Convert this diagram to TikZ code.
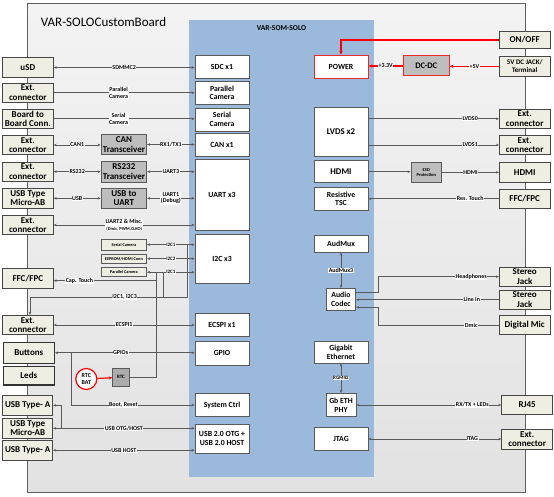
\documentclass[tikz,border=0pt]{standalone}
\usepackage{fontspec}
\setmainfont{Carlito}
\usetikzlibrary{arrows.meta,calc,shapes.geometric}
\definecolor{boardtop}{RGB}{243,243,243}
\definecolor{boardbot}{RGB}{226,226,226}
\definecolor{boardline}{RGB}{95,95,95}
\definecolor{somblue}{RGB}{155,185,218}
\definecolor{extfill}{RGB}{238,238,226}
\definecolor{extline}{RGB}{70,70,70}
\definecolor{greyfill}{RGB}{190,190,190}
\definecolor{lngrey}{RGB}{90,90,90}
\definecolor{pwrred}{RGB}{240,40,40}
\tikzset{
  fig/.style={x=1pt,y=-1pt},
  ext/.style={draw=extline,fill=extfill,line width=0.8pt,minimum width=51pt,
              minimum height=19.5pt,align=center,inner sep=0.5pt,
              font=\bfseries\fontsize{9}{9.5}\selectfont},
  extb/.style={ext,line width=1.4pt,draw=black!80},
  inbox/.style={draw=lngrey,fill=white,line width=0.8pt,minimum width=54pt,align=center,
                inner sep=0.5pt,font=\bfseries\fontsize{7.8}{8.8}\selectfont},
  greybox/.style={draw=lngrey,fill=greyfill,line width=0.8pt,minimum width=45.7pt,
                  minimum height=20.5pt,align=center,inner sep=0.5pt,
                  font=\bfseries\fontsize{9}{9.5}\selectfont},
  devbox/.style={draw=lngrey,fill=extfill,line width=0.6pt,minimum width=45.7pt,
                 align=center,inner sep=0pt,font=\bfseries\fontsize{4.3}{5}\selectfont},
  ln/.style={-{Stealth[length=3pt,width=2.6pt]},line width=0.7pt,draw=lngrey},
  lnb/.style={{Stealth[length=3pt,width=2.6pt]}-{Stealth[length=3pt,width=2.6pt]},
              line width=0.7pt,draw=lngrey},
  pln/.style={line width=0.7pt,draw=lngrey},
  rln/.style={-{Stealth[length=3.6pt,width=3.2pt]},line width=1.2pt,draw=red},
  lbl/.style={font=\bfseries\fontsize{6}{6.5}\selectfont,fill=white,inner sep=0.5pt,
              align=center},
}

\begin{document}
\begin{tikzpicture}[fig]
\useasboundingbox (0,0) rectangle (554,497);
\fill[white] (0,0) rectangle (554,497);

% board and module
\shade[top color=boardtop,bottom color=boardbot] (27,4) rectangle (525,492.7);
\draw[boardline,line width=1pt] (27,4) rectangle (525,492.7);
\fill[somblue] (189,20) rectangle (374,476.7);
\node[anchor=west,inner sep=0pt,font=\fontsize{13}{14}\selectfont] (boardtitle)
  at (40.7,21.7) {VAR-SOLOCustomBoard};
\node[font=\bfseries\fontsize{7.5}{8}\selectfont] (somtitle) at (281.5,28) {VAR-SOM-SOLO};

% left connectors
\node[ext] (usd) at (27.8,67.5) {uSD};
\node[ext] (extpar) at (27.8,92.8) {Ext.\\connector};
\node[ext] (b2b) at (27.8,118.8) {Board to\\Board Conn.};
\node[ext] (extcan) at (27.8,145) {Ext.\\connector};
\node[ext] (extrs) at (27.8,171.7) {Ext.\\connector};
\node[ext] (usbmicro1) at (27.8,198.3) {USB Type\\Micro-AB};
\node[ext] (extuart) at (27.8,225) {Ext.\\connector};
\node[ext] (ffcl) at (27.8,278.3) {FFC/FPC};
\node[ext] (extspi) at (27.8,325) {Ext.\\connector};
\node[extb,minimum height=21pt] (buttons) at (28.8,352.8) {Buttons};
\node[extb,minimum height=18.5pt] (leds) at (28.8,375.8) {Leds};
\node[ext,minimum width=50pt] (usba1) at (27.7,405.3) {USB Type- A};
\node[ext,minimum width=50pt] (usbmicro2) at (27.7,428.3) {USB Type\\Micro-AB};
\node[ext,minimum width=50pt] (usba2) at (27.7,450.3) {USB Type- A};

% module, left column
\node[inbox,minimum height=23.3pt] (sdc) at (222,66.7) {SDC x1};
\node[inbox,minimum height=22.3pt] (parcam) at (222,92.8) {Parallel\\Camera};
\node[inbox,minimum height=23pt] (sercam) at (222,119.5) {Serial\\Camera};
\node[inbox,minimum height=22.7pt] (canx) at (222,144.7) {CAN x1};
\node[inbox,minimum height=71.4pt] (uart) at (222,195) {UART x3};
\node[inbox,minimum height=49pt] (i2c) at (222,258.8) {I2C x3};
\node[inbox,minimum height=23.4pt] (ecspi) at (222,325) {ECSPI x1};
\node[inbox,minimum height=24pt] (gpio) at (222,353) {GPIO};
\node[inbox,minimum height=23.4pt] (sysctrl) at (222,405) {System Ctrl};
\node[inbox,minimum height=29.3pt] (usbotg) at (222,438.7) {USB 2.0 OTG +\\USB 2.0 HOST};

% module, right column
\node[inbox,draw=pwrred,line width=1pt,minimum height=23.3pt] (power) at (341,66.7) {POWER};
\node[inbox,minimum height=48.7pt,font=\bfseries\fontsize{8.8}{10}\selectfont] (lvds)
  at (341,131.7) {LVDS x2};
\node[inbox,minimum height=22pt,font=\bfseries\fontsize{8.8}{10}\selectfont] (hdmi)
  at (341,171.7) {HDMI};
\node[inbox,minimum height=22.7pt] (tsc) at (341,198.7) {Resistive\\TSC};
\node[inbox,minimum height=17.3pt] (audmux) at (341,243.7) {AudMux};
\node[inbox,minimum width=29.7pt,minimum height=22.4pt] (codec) at (340.9,299.5) {Audio\\Codec};
\node[inbox,minimum height=22pt] (gbe) at (341,352) {Gigabit\\Ethernet};
\node[inbox,minimum width=30pt,minimum height=23.4pt] (phy) at (341,405) {Gb ETH\\PHY};
\node[inbox,minimum height=23.4pt] (jtag) at (341,439) {JTAG};

% parts on the board
\node[greybox] (cantr) at (123.9,144.5) {CAN\\Transceiver};
\node[greybox] (rstr) at (123.9,171.7) {RS232\\Transceiver};
\node[greybox] (usbuart) at (123.9,198.3) {USB to\\UART};
\node[devbox,minimum height=10.7pt] (dsercam) at (123.9,244.7) {Serial Camera};
\node[devbox,minimum height=9.3pt] (deeprom) at (123.9,258.7) {EEPROM/HDMI Conn};
\node[devbox,minimum height=9pt] (dparcam) at (123.9,272.2) {Parallel Camera};
\node[greybox,minimum width=16.3pt,minimum height=18.7pt,fill=greyfill!90!black,
      font=\bfseries\fontsize{5}{6}\selectfont] (rtc) at (120.9,377.3) {RTC};
\node[circle,draw=red,line width=1.2pt,fill=white,minimum size=21pt,inner sep=0pt,
      align=center,font=\bfseries\fontsize{6}{6.5}\selectfont] (rtcbat) at (86.3,379) {RTC\\BAT};
\node[greybox,draw=pwrred,line width=1pt,minimum width=46pt,minimum height=20pt,
      font=\bfseries\fontsize{8.5}{9}\selectfont] (dcdc) at (426.3,66) {DC-DC};
\node[greybox,minimum width=30.7pt,minimum height=20pt,
      font=\bfseries\fontsize{4.5}{5.5}\selectfont] (esd) at (426.3,172.3) {ESD\\Protection};

% right connectors
\node[ext,minimum width=50.7pt,minimum height=16.6pt] (onoff) at (524.7,40) {ON/OFF};
\node[ext,minimum width=50.7pt,minimum height=19.3pt,font=\bfseries\fontsize{7}{8}\selectfont]
  (dcjack) at (524.7,66.3) {5V DC JACK/\\Terminal};
\node[ext,minimum width=50.7pt] (extlvds0) at (524.7,118.8) {Ext.\\connector};
\node[ext,minimum width=50.7pt] (extlvds1) at (524.7,145) {Ext.\\connector};
\node[ext,minimum width=50.7pt] (hdmiconn) at (524.7,172.2) {HDMI};
\node[ext,minimum width=50.7pt] (ffcr) at (524.7,198.8) {FFC/FPC};
\node[ext,minimum width=50.7pt] (jack1) at (524.7,276.7) {Stereo\\Jack};
\node[ext,minimum width=50.7pt,minimum height=19.3pt] (jack2) at (524.7,299.7) {Stereo\\Jack};
\node[ext,minimum width=50.7pt] (dmic) at (524.7,325) {Digital Mic};
\node[ext,minimum height=19.3pt] (rj45) at (527.2,404.7) {RJ45};
\node[ext] (extjtag) at (527.2,439.3) {Ext.\\connector};

% bus corners
\coordinate (b3top) at (187.7,244.7);
\coordinate (b3bot) at (187.7,297.3);
\coordinate (b2top) at (163.3,272.2);
\coordinate (b2bot) at (163.3,297.3);
\coordinate (b1top) at (156.7,272.2);
\coordinate (ctk) at (156.7,280.7);
\coordinate (spidn) at (30,297.3);
\coordinate (bootk) at (71.7,353);
\coordinate (usbk) at (61.7,428.3);
\coordinate (hpk) at (378.3,292.3);
\coordinate (dmk) at (378.3,307.3);

% left side links
\draw[lnb] (usd.east) -- node[lbl]{SDMMC2} (usd.east -| sdc.west);
\draw[ln] (extpar.east) -- node[lbl,pos=0.46]{Parallel\\Camera} (extpar.east -| parcam.west);
\draw[ln] (b2b.east) -- node[lbl,pos=0.46]{Serial\\Camera} (b2b.east -| sercam.west);
\draw[lnb] (extcan.east) -- node[lbl]{CAN1} (extcan.east -| cantr.west);
\draw[lnb] (cantr.east) -- node[lbl]{RX1/TX1} (cantr.east -| canx.west);
\draw[lnb] (extrs.east) -- node[lbl]{RS232} (extrs.east -| rstr.west);
\draw[lnb] (rstr.east) -- node[lbl]{UART3} (rstr.east -| uart.west);
\draw[lnb] (usbmicro1.east) -- node[lbl]{USB} (usbmicro1.east -| usbuart.west);
\draw[lnb] (usbuart.east) -- node[lbl]{UART1\\(Debug)} (usbuart.east -| uart.west);
\draw[lnb] (extuart.east) -- node[lbl]{UART2 \& Misc.\\{\fontsize{4.5}{5}\selectfont (Dmic, PWM,CLKO)}}
  (extuart.east -| uart.west);
\draw[lnb] (dsercam.east) -- node[lbl,font=\bfseries\fontsize{5}{6}\selectfont]{I2C1} (dsercam.east -| i2c.west);
\draw[lnb] (deeprom.east) -- node[lbl,font=\bfseries\fontsize{5}{6}\selectfont]{I2C2} (deeprom.east -| i2c.west);
\draw[lnb] (dparcam.east) -- node[lbl,font=\bfseries\fontsize{5}{6}\selectfont]{I2C1} (dparcam.east -| i2c.west);
\draw[pln] (b2top) -- (b2bot);
\draw[ln] (b3top) -- (b3bot) -- node[lbl,pos=0.4]{I2C1, I2C3} (spidn) -- (spidn |- extspi.north);
\draw[pln] (b1top) -- (b1top |- rtc.east) -- (rtc.east);
\draw[ln] (ctk) -- node[lbl,pos=0.75]{Cap. Touch} (ctk -| ffcl.east);
\draw[lnb] (extspi.east) -- node[lbl]{ECSPI1} (extspi.east -| ecspi.west);
\draw[lnb] (buttons.east) -- node[lbl,pos=0.47]{GPIOs} (buttons.east -| gpio.west);
\draw[ln] (bootk) |- node[lbl,pos=0.71]{Boot, Reset} (sysctrl.west);
\draw[rln] (rtcbat) -- (rtc);
\draw[ln] (usbk) |- (usba1.east);
\draw[lnb] (usbmicro2.east) -- node[lbl]{USB OTG/HOST} (usbmicro2.east -| usbotg.west);
\draw[lnb] (usba2.east) -- node[lbl]{USB HOST} (usba2.east -| usbotg.west);

% right side links
\draw[rln] (onoff.west) -| (power.north);
\draw[rln] (dcjack.west) -- node[lbl]{+5V} (dcjack.west -| dcdc.east);
\draw[rln] (dcdc.west) -- node[lbl]{+3.3V} (dcdc.west -| power.east);
\draw[ln] (lvds.east |- extlvds0.west) -- node[lbl,pos=0.78]{LVDS0} (extlvds0.west);
\draw[ln] (lvds.east |- extlvds1.west) -- node[lbl,pos=0.78]{LVDS1} (extlvds1.west);
\draw[ln] (hdmi.east) -- (hdmi.east -| esd.west);
\draw[ln] (esd.east) -- node[lbl]{HDMI} (esd.east -| hdmiconn.west);
\draw[ln] (ffcr.west) -- node[lbl,pos=0.22]{Res. Touch} (ffcr.west -| tsc.east);
\draw[lnb] (audmux.south) -- node[lbl]{AudMux3} (audmux.south |- codec.north);
\draw[ln] (codec.east |- hpk) -- (hpk) |- node[lbl,pos=0.885]{Headphones} (jack1.west);
\draw[ln] (jack2.west) -- node[lbl,pos=0.19]{Line In} (jack2.west -| codec.east);
\draw[ln] (dmic.west) -| node[lbl,pos=0.115]{Dmic} (dmk) -- (codec.east |- dmk);
\draw[lnb] (gbe.south) -- node[lbl,font=\bfseries\fontsize{5}{6}\selectfont]{RGMII2} (gbe.south |- phy.north);
\draw[lnb] (phy.east) -- node[lbl,pos=0.8]{RX/TX + LEDs} (phy.east -| rj45.west);
\draw[lnb] (jtag.east) -- node[lbl,pos=0.78]{JTAG} (jtag.east -| extjtag.west);

\end{tikzpicture}
\end{document}
